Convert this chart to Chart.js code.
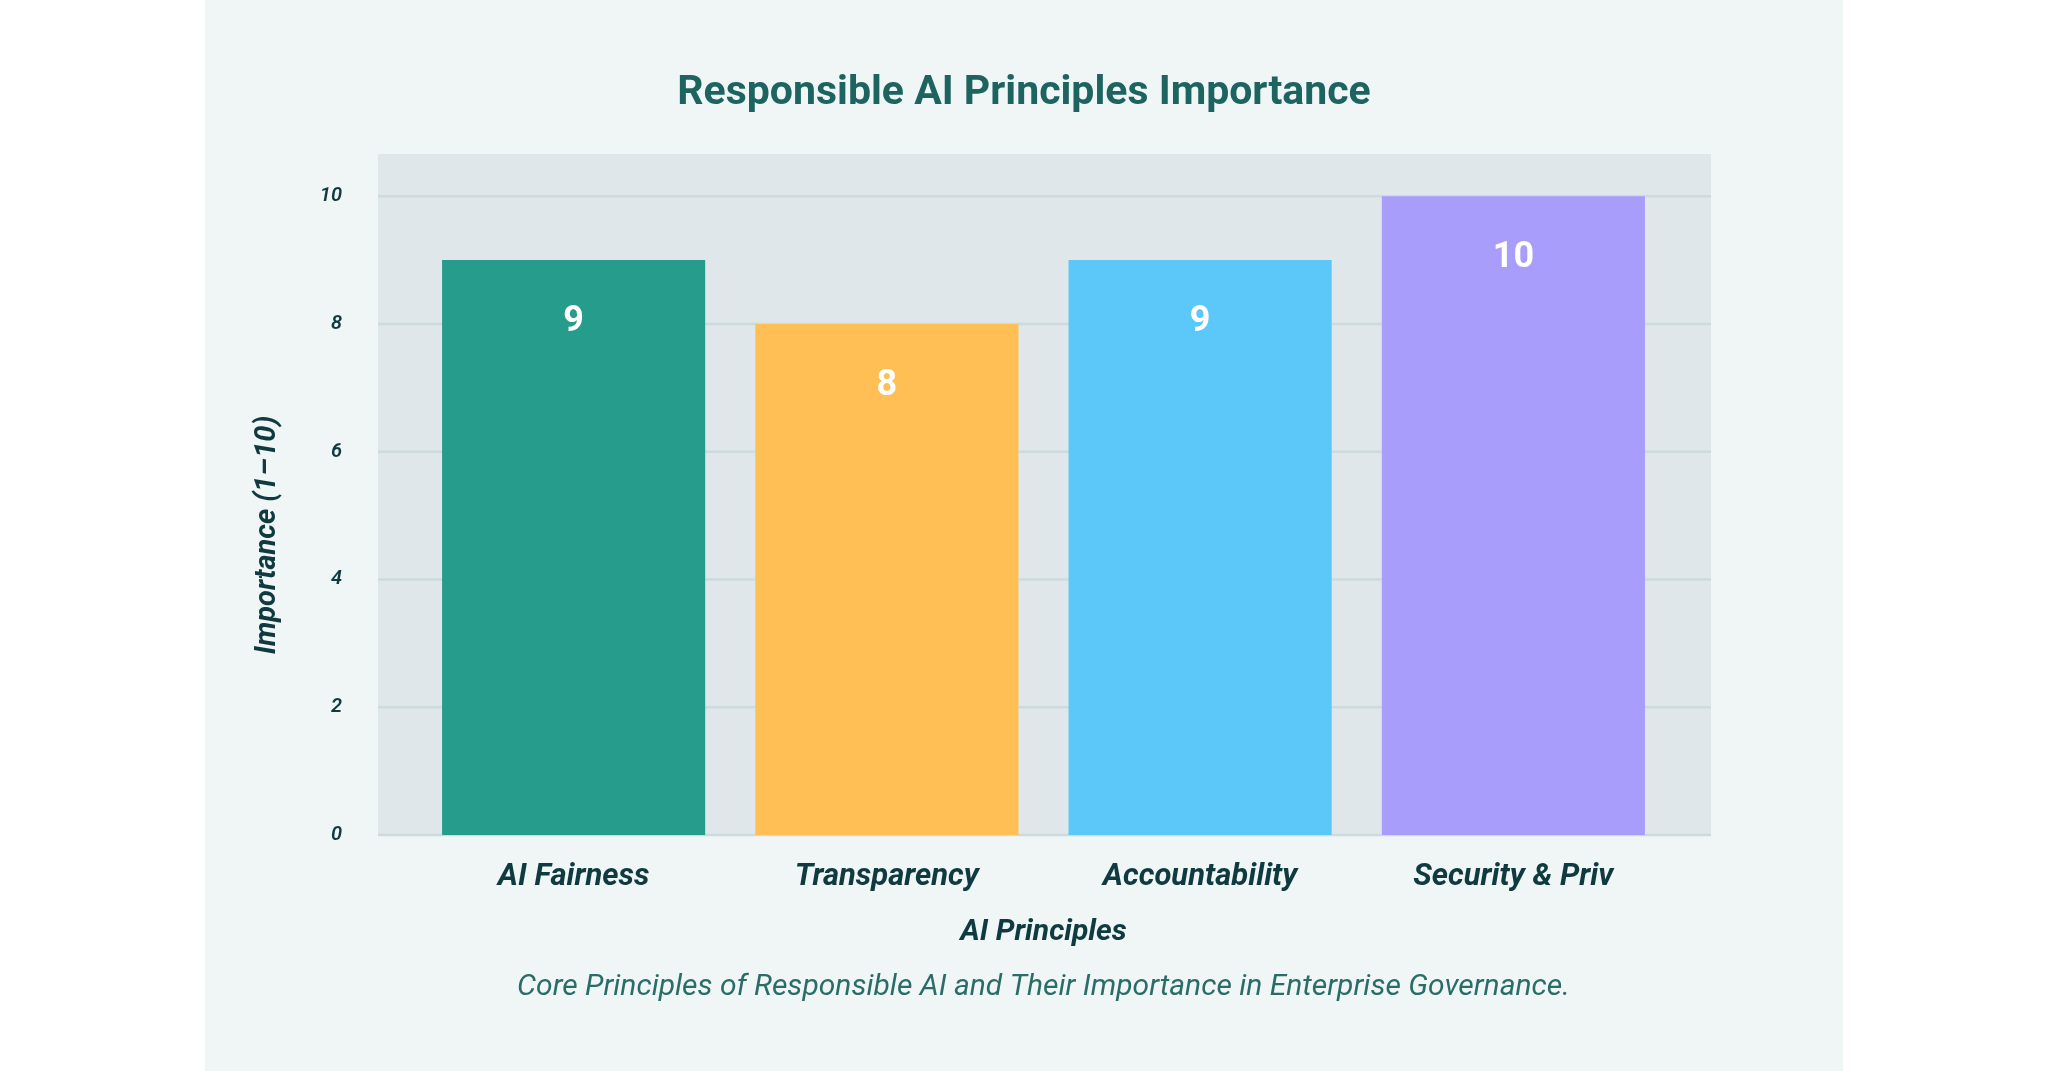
<!DOCTYPE html>
<html>
<head>
<meta charset="utf-8">
<script src="https://cdn.jsdelivr.net/npm/chart.js@4.4.1/dist/chart.umd.min.js"></script>
<style>
  html, body { margin: 0; padding: 0; background: #ffffff; }
  #card { position: absolute; left: 205px; top: 0; width: 1638px; height: 1071px; background: #f0f6f6; }
</style>
</head>
<body>
<div id="card"><canvas id="principlesChart" width="1638" height="1071"></canvas></div>
<script>
const categories = ['AI Fairness', 'Transparency', 'Accountability', 'Security & Priv'];
const importance = [9, 8, 9, 10];
const barColors = ['#269d8c', '#ffbf55', '#5bc8f9', '#a99dfc'];
const yTicks = [0, 2, 4, 6, 8, 10];

const FONT = 'Roboto, "Liberation Sans", sans-serif';
const DARK = '#0e3a40';

// grey plot panel + grid lines, a bit wider than the category area
const plotPanel = {
    id: 'plotPanel',
    beforeDatasetsDraw(chart) {
        const { ctx, chartArea, scales } = chart;
        const left = chartArea.left - 39;
        const right = chartArea.right + 41;
        ctx.save();
        ctx.fillStyle = '#dfe7ea';
        ctx.fillRect(left, chartArea.top, right - left, chartArea.bottom - chartArea.top);
        ctx.strokeStyle = '#ccdbdd';
        ctx.lineWidth = 2.5;
        yTicks.forEach(v => {
            const y = scales.y.getPixelForValue(v);
            ctx.beginPath();
            ctx.moveTo(left, y);
            ctx.lineTo(right, y);
            ctx.stroke();
        });
        ctx.restore();
    }
};

// white value labels inside the bars, y axis title
const valueLabels = {
    id: 'valueLabels',
    afterDatasetsDraw(chart) {
        const { ctx } = chart;
        const meta = chart.getDatasetMeta(0);
        ctx.save();
        ctx.fillStyle = '#ffffff';
        ctx.font = 'bold 36px ' + FONT;
        ctx.textAlign = 'center';
        ctx.textBaseline = 'middle';
        meta.data.forEach((bar, i) => {
            ctx.fillText(String(importance[i]), bar.x, bar.y + 62);
        });
        ctx.restore();

        // y title sits a bit below the middle of the panel
        ctx.save();
        ctx.translate(63, 535);
        ctx.rotate(-Math.PI / 2);
        ctx.fillStyle = DARK;
        ctx.font = 'italic bold 29px ' + FONT;
        ctx.textAlign = 'center';
        ctx.textBaseline = 'middle';
        ctx.fillText('Importance (1–10)', 0, 0);
        ctx.restore();
    }
};

new Chart(document.getElementById('principlesChart'), {
    type: 'bar',
    data: {
        labels: categories,
        datasets: [{
            label: 'Importance',
            data: importance,
            backgroundColor: barColors,
            borderWidth: 0,
            categoryPercentage: 1,
            barPercentage: 0.84
        }]
    },
    options: {
        responsive: false,
        animation: false,
        devicePixelRatio: 1,
        layout: { padding: 0 },
        plugins: {
            legend: { display: false },
            tooltip: { enabled: false },
            title: {
                display: true,
                text: 'Responsible AI Principles Importance',
                color: '#1d6461',
                font: { family: FONT, size: 41, weight: 'bold', lineHeight: 1.2 },
                padding: { top: 69.4, bottom: 35.4 }
            },
            subtitle: {
                display: true,
                position: 'bottom',
                fullSize: false,
                text: 'Core Principles of Responsible AI and Their Importance in Enterprise Governance.',
                color: '#2a6d68',
                font: { family: FONT, size: 30, style: 'italic', weight: 'normal', lineHeight: 1.2 },
                padding: { top: 0, bottom: 66 }
            }
        },
        scales: {
            x: {
                offset: true,
                grid: { display: false },
                border: { display: false },
                ticks: {
                    color: DARK,
                    padding: 15.4,
                    font: { family: FONT, size: 31, weight: 'bold', style: 'italic', lineHeight: 1.2 }
                },
                title: {
                    display: true,
                    text: 'AI Principles',
                    color: DARK,
                    font: { family: FONT, size: 30, weight: 'bold', style: 'italic', lineHeight: 1.2 },
                    padding: { top: 0, bottom: 19 }
                },
                afterFit(scale) { scale.height = 134; }
            },
            y: {
                min: 0,
                max: 10.66,
                grid: { display: false },
                border: { display: false },
                afterBuildTicks(scale) { scale.ticks = yTicks.map(v => ({ value: v })); },
                ticks: {
                    color: DARK,
                    padding: 67,
                    font: { family: FONT, size: 20, weight: '600', style: 'italic' }
                },
                afterFit(scale) { scale.width = 212; }
            },
            // empty right-hand gutter so the title stays centred on the card
            gutter: {
                type: 'linear',
                position: 'right',
                grid: { display: false },
                border: { display: false },
                ticks: { display: false },
                afterFit(scale) { scale.width = 173; }
            }
        }
    },
    plugins: [plotPanel, valueLabels]
});
</script>
</body>
</html>
